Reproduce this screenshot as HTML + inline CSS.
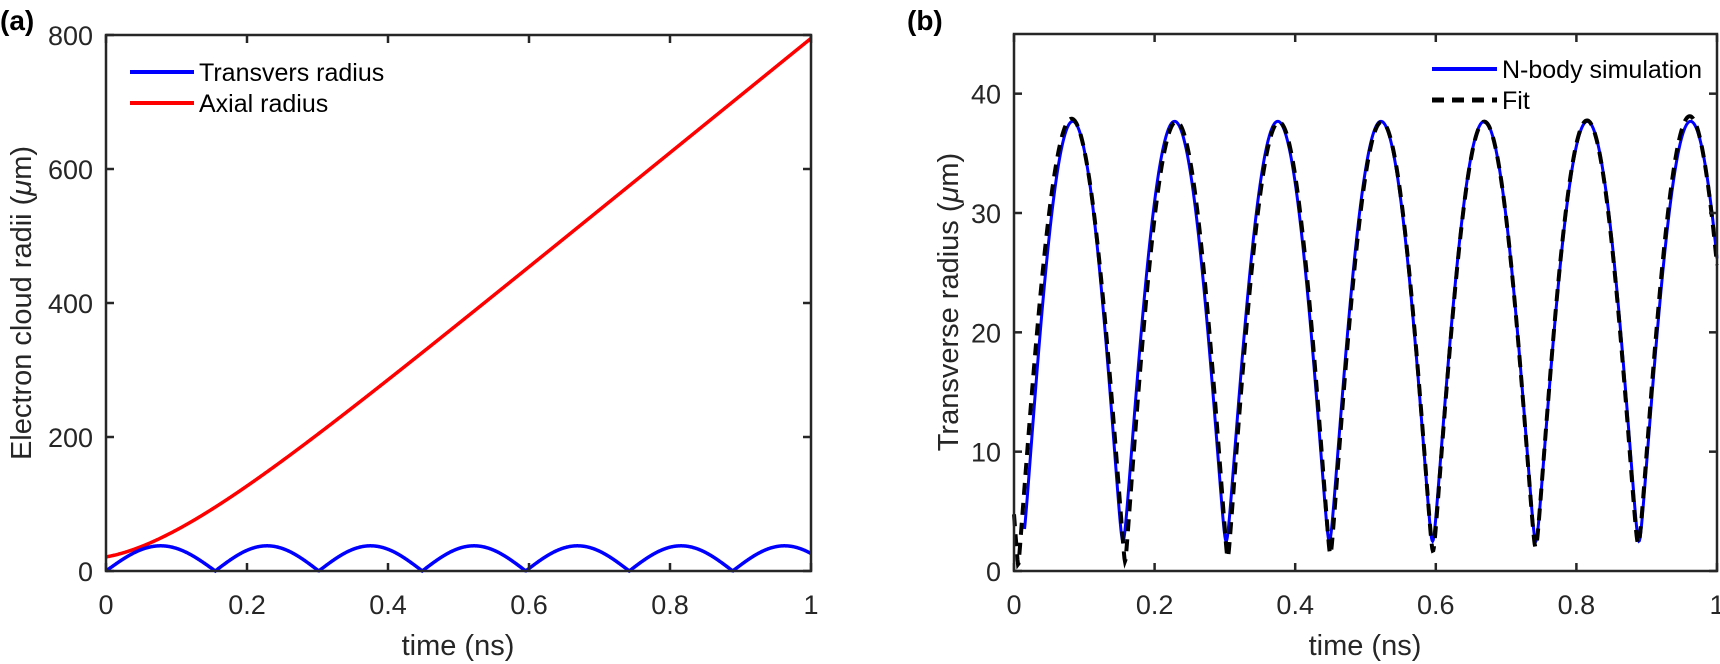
<!DOCTYPE html>
<html><head><meta charset="utf-8"><style>
html,body{margin:0;padding:0;background:#fff;}
svg{display:block;font-family:"Liberation Sans",Arial,sans-serif;}
</style></head><body>
<svg id="s" width="1720" height="664" viewBox="0 0 1720 664" xmlns="http://www.w3.org/2000/svg">
<text x="0" y="30" font-size="28" font-weight="bold" fill="#000">(a)</text>
<text x="907" y="30" font-size="28" font-weight="bold" fill="#000">(b)</text>
<g id="ga"></g><g id="gb"></g>
<text x="458" y="655" font-size="29" text-anchor="middle" fill="#262626">time (ns)</text>
<text x="1365" y="655" font-size="29" text-anchor="middle" fill="#262626">time (ns)</text>
<text transform="translate(31,303) rotate(-90)" font-size="29" text-anchor="middle" fill="#262626">Electron cloud radii (<tspan font-style="italic">μ</tspan>m)</text>
<text transform="translate(958,302) rotate(-90)" font-size="29" text-anchor="middle" fill="#262626">Transverse radius (<tspan font-style="italic">μ</tspan>m)</text>
<line x1="130" y1="72" x2="194" y2="72" stroke="#0000ff" stroke-width="4"/>
<line x1="130" y1="103" x2="194" y2="103" stroke="#ff0000" stroke-width="4"/>
<text x="199" y="81" font-size="25" fill="#000">Transvers radius</text>
<text x="199" y="112" font-size="25" fill="#000">Axial radius</text>
<line x1="1432" y1="69" x2="1497" y2="69" stroke="#0000ff" stroke-width="4"/>
<line x1="1432" y1="100" x2="1497" y2="100" stroke="#000" stroke-width="5" stroke-dasharray="12,8"/>
<text x="1502" y="78" font-size="25" fill="#000">N-body simulation</text>
<text x="1502" y="109" font-size="25" fill="#000">Fit</text>
</svg>
<script>
var NS="http://www.w3.org/2000/svg";
function el(p,n,a){var e=document.createElementNS(NS,n);for(var k in a)e.setAttribute(k,a[k]);p.appendChild(e);return e;}
function phiS(t){return t<0.155?Math.PI*(t-0.012)/0.143:Math.PI*(1+(t-0.155)/0.1468);}
function blue(t,c){var s=Math.sin(phiS(t));return Math.sqrt(c*c+37.6*37.6*s*s);}
function blueA(t){var p=t<0.155?Math.PI*t/0.155:Math.PI*(1+(t-0.155)/0.1468);return 37.6*Math.abs(Math.sin(p));}
function phiF(t){return t<0.158?Math.PI*(t-0.006)/0.152:Math.PI*(1+(t-0.158)/0.146);}
function fit(t){var s=Math.sin(phiF(t));var c=0.5+2*t;var A=37.6+0.6*Math.pow(Math.abs(t-0.5)*2,4);return Math.sqrt(c*c+A*A*s*s);}
function red(t){return 21+854*t-80*(1-Math.exp(-t/0.12));}
function axes(g,x0,x1,y0,y1,ymax,yt){
 el(g,"rect",{x:x0,y:y0,width:x1-x0,height:y1-y0,fill:"none",stroke:"#262626","stroke-width":2.5});
 for(var i=0;i<=5;i++){var x=x0+(x1-x0)*i/5;
  el(g,"line",{x1:x,y1:y1,x2:x,y2:y1-8,stroke:"#262626","stroke-width":2.5});
  el(g,"line",{x1:x,y1:y0,x2:x,y2:y0+8,stroke:"#262626","stroke-width":2.5});
  var t=el(g,"text",{x:x,y:y1+43,"font-size":27,"text-anchor":"middle",fill:"#262626"});t.textContent=(i==0?"0":i==5?"1":(i/5).toFixed(1));}
 yt.forEach(function(v){var y=y1-(y1-y0)*v/ymax;
  el(g,"line",{x1:x0,y1:y,x2:x0+8,y2:y,stroke:"#262626","stroke-width":2.5});
  el(g,"line",{x1:x1,y1:y,x2:x1-8,y2:y,stroke:"#262626","stroke-width":2.5});
  var t=el(g,"text",{x:x0-13,y:y+10,"font-size":27,"text-anchor":"end",fill:"#262626"});t.textContent=v;});
}
function path(g,f,t0,t1,x0,x1,y0,y1,ymax,attrs){var d="";for(var i=0;i<=1400;i++){var t=t0+(t1-t0)*i/1400;var x=x0+(x1-x0)*t,y=y1-(y1-y0)*f(t)/ymax;d+=(i?"L":"M")+x.toFixed(2)+","+y.toFixed(2);}attrs.d=d;attrs.fill="none";el(g,"path",attrs);}
var ga=document.getElementById("ga"),gb=document.getElementById("gb");
path(ga,red,0,1,106,811,35,571,800,{stroke:"#ff0000","stroke-width":3.5});
path(ga,blueA,0,1,106,811,35,571,800,{stroke:"#0000ff","stroke-width":3.5});
axes(ga,106,811,35,571,800,[0,200,400,600,800]);
path(gb,function(t){return blue(t,2.5);},0.015,1,1014,1717,34,571,45,{stroke:"#0000ff","stroke-width":3});
path(gb,fit,0,1,1014,1717,34,571,45,{stroke:"#000","stroke-width":4,"stroke-dasharray":"12,8"});
axes(gb,1014,1717,34,571,45,[0,10,20,30,40]);
</script>
</body></html>
